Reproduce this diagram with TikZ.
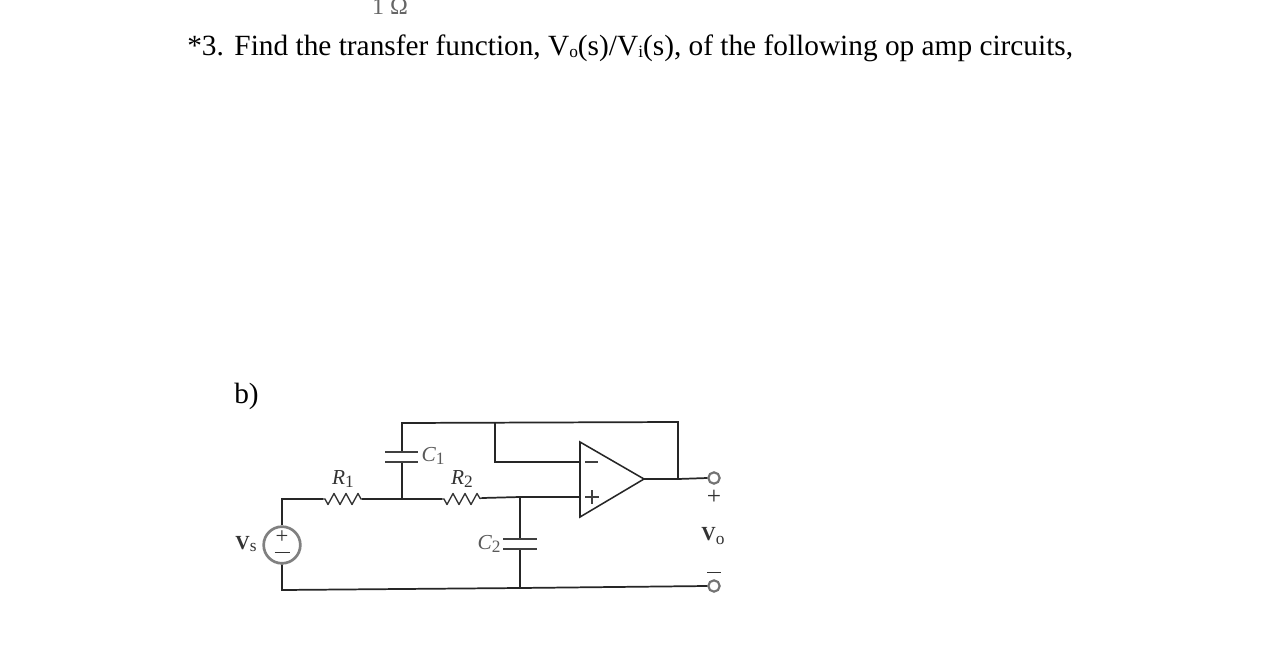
\documentclass[tikz,border=0pt]{standalone}
\usepackage{fontspec}
\setmainfont{Liberation Serif}
\newcommand{\subt}[1]{\raisebox{-0.15ex}{\fontsize{13}{14}\selectfont #1}}
\tikzset{
  px/.style={x=0.75pt,y=-0.75pt},
  wire/.style={draw=black!85,line width=1.3pt,line join=miter},
  thinwire/.style={draw=black!80,line width=1pt,line join=round},
  plate/.style={draw=black!75,line width=1.3pt},
  ampbox/.style={draw=black!85,line width=1.15pt,line join=miter},
  srcnode/.style={circle,draw=black!50,line width=2pt,fill=white,minimum size=27.5pt,inner sep=0pt},
  term/.style={circle,draw=black!55,line width=1.6pt,fill=white,minimum size=8.5pt,inner sep=0pt},
  title/.style={inner sep=0pt,anchor=base west,font=\fontsize{22}{26}\selectfont,text=black},
  ckt/.style={inner sep=0pt,text=black!80},
  rlabel/.style={ckt,font=\fontsize{16}{18}\selectfont\itshape},
  blabel/.style={ckt,font=\fontsize{15}{17}\selectfont\bfseries},
  sgn/.style={ckt,font=\fontsize{15}{16}\selectfont},
}
\begin{document}
\begin{tikzpicture}[px]
\useasboundingbox (0,0) rectangle (1274,646);
\clip (0,0) rectangle (1274,646);
\fill[white] (0,0) rectangle (1274,646);
% texts
\node[ckt,font=\fontsize{18}{19}\selectfont,text=black!60,anchor=base] (ohm) at (390,14) {1 Ω};
\node[title] (ttl) at (187,55) {*3.\hspace{0.36em}Find the transfer function, V\subt{o}(s)/V\subt{i}(s), of the following op amp circuits,};
\node[title,anchor=base west] (blbl) at (234,403) {b)};
% coordinates
\coordinate (tl) at (282,499);
\coordinate (bl) at (282,590);
\coordinate (ra) at (323,499);
\coordinate (rb) at (362,499);
\coordinate (j1) at (402,499);
\coordinate (j1t) at (402,423);
\coordinate (c1a) at (402,452);
\coordinate (c1b) at (402,462);
\coordinate (sa) at (442,499);
\coordinate (sb) at (482,498);
\coordinate (j2) at (520,497);
\coordinate (c2a) at (520,539);
\coordinate (c2b) at (520,549);
\coordinate (j2b) at (520,588);
\coordinate (trp) at (678,422);
\coordinate (j3) at (678,479);
\coordinate (fb) at (495,423);
\coordinate (fbb) at (495,462);
\coordinate (am) at (580,462);
\coordinate (ap) at (580,497);
\coordinate (a1) at (580,442);
\coordinate (a2) at (580,517);
\coordinate (aout) at (644,479);
% nodes
\node[srcnode] (vs) at (282,545) {};
\node[sgn,font=\fontsize{17}{18}\selectfont] (vsp) at (282,537) {+};
\node[sgn] (vsm) at (282,555) {\rule[0.55ex]{0.75em}{0.7pt}};
\node[term] (t1) at (714,478) {};
\node[term] (t2) at (714,586) {};
\node[blabel] (vslbl) at (246,544) {V\raisebox{-0.3ex}{\fontsize{13}{14}\mdseries\selectfont s}};
\node[blabel] (volbl) at (713,536) {V\raisebox{-0.4ex}{\fontsize{13}{14}\mdseries\selectfont o}};
\node[sgn,font=\fontsize{19}{20}\selectfont] (op) at (714,497) {+};
\node[sgn] (om) at (714,575) {\rule[0.55ex]{0.7em}{1pt}};
\node[rlabel] (r1l) at (343,479) {R\raisebox{-0.35ex}{\fontsize{13}{14}\upshape\selectfont 1}};
\node[rlabel] (r2l) at (462,479) {R\raisebox{-0.35ex}{\fontsize{13}{14}\upshape\selectfont 2}};
\node[rlabel,text=black!65] (c1l) at (433,456) {C\raisebox{-0.35ex}{\fontsize{13}{14}\upshape\selectfont 1}};
\node[rlabel,text=black!65] (c2l) at (489,544) {C\raisebox{-0.35ex}{\fontsize{13}{14}\upshape\selectfont 2}};
% wires
\draw[wire] (vs.north) -- (tl) -- (ra);
\draw[wire] (vs.south) -- (bl) -- (j2b) -- (t2.west);
\draw[thinwire] (ra) -- ++(2,0) -- ++(3,5.5) -- ++(6,-11) -- ++(6,11) -- ++(6,-11) -- ++(6,11) -- ++(6,-11) -- ++(3,5.5) -- (rb);
\draw[wire] (rb) -- (j1) -- (sa);
\draw[thinwire] (sa) -- ++(2,0) -- ++(3,5.5) -- ++(6,-11) -- ++(6,11) -- ++(6,-11) -- ++(6,11) -- ++(6,-11) -- ++(3,5) -- (sb);
\draw[wire] (sb) -- (j2) -- (ap);
\draw[wire] (j1) -- (c1b);
\draw[wire] (c1a) -- (j1t) -- (trp) -- (j3);
\draw[plate] (385,452) -- (418,452);
\draw[plate] (385,462) -- (418,462);
\draw[wire] (fb) -- (fbb) -- (am);
\draw[wire] (j2) -- (c2a);
\draw[wire] (c2b) -- (j2b);
\draw[plate] (503,539) -- (537,539);
\draw[plate] (503,549) -- (537,549);
\draw[ampbox] (a1) -- (a2) -- (aout) -- cycle;
\draw[wire] (aout) -- (j3) -- (t1.west);
\draw[plate,line width=1pt] (585,462) -- (598,462);
\draw[plate,line width=1pt] (585,497) -- (599,497) (592,490) -- (592,504);
\end{tikzpicture}
\end{document}
